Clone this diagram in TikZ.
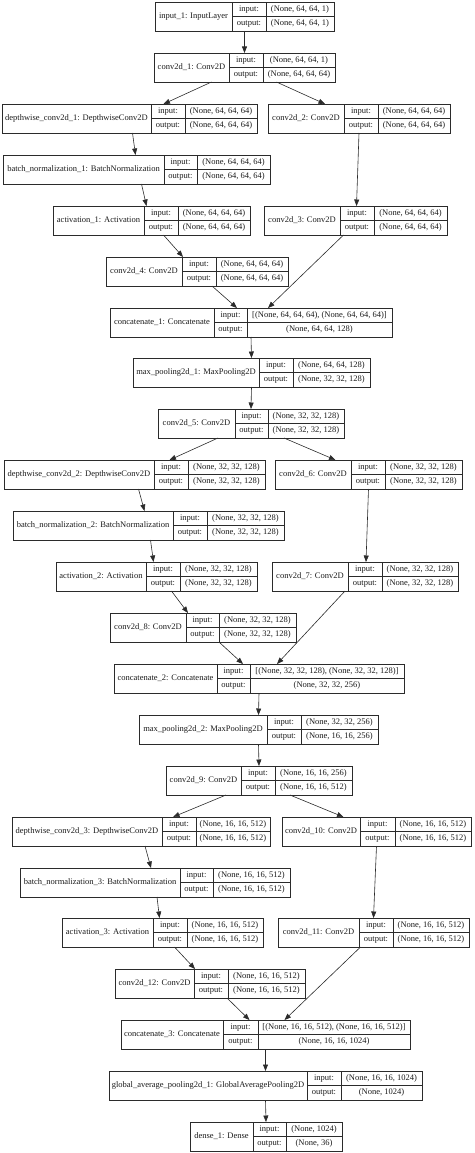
\documentclass[tikz,border=0pt]{standalone}
\usepackage{fontspec}
\setmainfont{Liberation Serif}
\usetikzlibrary{arrows.meta,fit}
\definecolor{krInk}{HTML}{1A1A1A}
\definecolor{krLine}{HTML}{2B2B2B}
\tikzset{
  krcell/.style={rectangle,draw=krLine,line width=0.6pt,inner sep=0pt,outer sep=0pt,text=krInk,font=\fontsize{8.5}{10}\selectfont,text height=6pt,text depth=1.9pt},
  krname/.style={krcell,minimum height=29pt},
  krlab/.style={krcell,minimum height=14.5pt},
  krval/.style={krcell,minimum height=14.5pt},
  krrec/.style={rectangle,inner sep=0pt,outer sep=0pt},
  krlink/.style={-{Triangle[length=6.5pt,width=5pt]},draw=krLine,line width=0.6pt}
}
% record: id, left, top, name width, label width, value width, name, input, output
\newcommand{\krlayer}[9]{%
  \node[krname,minimum width=#4pt,anchor=north west] (#1n) at (#2,#3) {#7};
  \node[krlab,minimum width=#5pt,anchor=north west] (#1li) at (#1n.north east) {input:};
  \node[krlab,minimum width=#5pt,anchor=north west] (#1lo) at (#1li.south west) {output:};
  \node[krval,minimum width=#6pt,anchor=north west] (#1vi) at (#1li.north east) {#8};
  \node[krval,minimum width=#6pt,anchor=north west] (#1vo) at (#1lo.north east) {#9};
  \node[krrec,fit=(#1n)(#1vo)] (#1) {};
}
\begin{document}
\begin{tikzpicture}[x=1pt,y=-1pt]
\useasboundingbox (0,0) rectangle (474,1153);

% ---- INPUT ----
\krlayer{in1}{155}{2}{77}{34}{68}{input\_1: InputLayer}{(None, 64, 64, 1)}{(None, 64, 64, 1)}
\krlayer{cv1}{154}{53}{75}{34}{72}{conv2d\_1: Conv2D}{(None, 64, 64, 1)}{(None, 64, 64, 64)}

% ---- BLOCK 1 ----
\krlayer{dw1}{2}{104}{149}{34}{72}{depthwise\_conv2d\_1: DepthwiseConv2D}{(None, 64, 64, 64)}{(None, 64, 64, 64)}
\krlayer{cv2}{268}{104}{76}{34}{72}{conv2d\_2: Conv2D}{(None, 64, 64, 64)}{(None, 64, 64, 64)}
\krlayer{bn1}{3}{155}{161}{33}{73}{batch\_normalization\_1: BatchNormalization}{(None, 64, 64, 64)}{(None, 64, 64, 64)}
\krlayer{ac1}{53}{206}{91}{34}{72}{activation\_1: Activation}{(None, 64, 64, 64)}{(None, 64, 64, 64)}
\krlayer{cv3}{264}{206}{76}{34}{73}{conv2d\_3: Conv2D}{(None, 64, 64, 64)}{(None, 64, 64, 64)}
\krlayer{cv4}{106}{257}{76}{34}{72}{conv2d\_4: Conv2D}{(None, 64, 64, 64)}{(None, 64, 64, 64)}
\krlayer{ct1}{110}{308}{104}{33}{145}{concatenate\_1: Concatenate}{[(None, 64, 64, 64), (None, 64, 64, 64)]}{(None, 64, 64, 128)}
\krlayer{mp1}{133}{358}{126}{34}{77}{max\_pooling2d\_1: MaxPooling2D}{(None, 64, 64, 128)}{(None, 32, 32, 128)}
\krlayer{cv5}{158}{409}{77}{33}{76}{conv2d\_5: Conv2D}{(None, 32, 32, 128)}{(None, 32, 32, 128)}

\draw[krlink] (in1.south) -- (cv1.north);
\draw[krlink] ([xshift=-33pt]cv1.south) -- ([xshift=34pt]dw1.north);
\draw[krlink] ([xshift=32pt]cv1.south) -- ([xshift=-34pt]cv2.north);
\draw[krlink] ([xshift=3pt]dw1.south) -- ([xshift=-1pt]bn1.north);
\draw[krlink] (cv2.south) -- ([xshift=1pt]cv3.north);
\draw[krlink] ([xshift=5pt]bn1.south) -- ([xshift=-5pt]ac1.north);
\draw[krlink] ([xshift=12pt]ac1.south) -- ([xshift=-14pt]cv4.north);
\draw[krlink] ([xshift=-12pt]cv3.south) -- ([xshift=17pt]ct1.north);
\draw[krlink] ([xshift=15pt]cv4.south) -- ([xshift=-14pt]ct1.north);
\draw[krlink] (ct1.south) -- (mp1.north);
\draw[krlink] (mp1.south) -- (cv5.north);

% ---- BLOCK 2 ----
\krlayer{dw2}{4}{460}{150}{34}{77}{depthwise\_conv2d\_2: DepthwiseConv2D}{(None, 32, 32, 128)}{(None, 32, 32, 128)}
\krlayer{cv6}{275}{460}{76}{34}{77}{conv2d\_6: Conv2D}{(None, 32, 32, 128)}{(None, 32, 32, 128)}
\krlayer{bn2}{13}{511}{160}{34}{77}{batch\_normalization\_2: BatchNormalization}{(None, 32, 32, 128)}{(None, 32, 32, 128)}
\krlayer{ac2}{56}{562}{90}{34}{77}{activation\_2: Activation}{(None, 32, 32, 128)}{(None, 32, 32, 128)}
\krlayer{cv7}{272}{562}{76}{34}{76}{conv2d\_7: Conv2D}{(None, 32, 32, 128)}{(None, 32, 32, 128)}
\krlayer{cv8}{110}{613}{76}{33}{77}{conv2d\_8: Conv2D}{(None, 32, 32, 128)}{(None, 32, 32, 128)}
\krlayer{ct2}{114}{664}{103}{33}{154}{concatenate\_2: Concatenate}{[(None, 32, 32, 128), (None, 32, 32, 128)]}{(None, 32, 32, 256)}
\krlayer{mp2}{139}{715}{128}{34}{77}{max\_pooling2d\_2: MaxPooling2D}{(None, 32, 32, 256)}{(None, 16, 16, 256)}
\krlayer{cv9}{166}{766}{75}{34}{77}{conv2d\_9: Conv2D}{(None, 16, 16, 256)}{(None, 16, 16, 512)}

\draw[krlink] ([xshift=-33pt]cv5.south) -- ([xshift=35pt]dw2.north);
\draw[krlink] ([xshift=33pt]cv5.south) -- ([xshift=-33pt]cv6.north);
\draw[krlink] ([xshift=4pt]dw2.south) -- ([xshift=-4pt]bn2.north);
\draw[krlink] (cv6.south) -- ([xshift=1pt]cv7.north);
\draw[krlink] ([xshift=2pt]bn2.south) -- ([xshift=-3pt]ac2.north);
\draw[krlink] ([xshift=15pt]ac2.south) -- ([xshift=-15pt]cv8.north);
\draw[krlink] ([xshift=-20pt]cv7.south) -- ([xshift=18pt]ct2.north);
\draw[krlink] ([xshift=16pt]cv8.south) -- ([xshift=-16pt]ct2.north);
\draw[krlink] (ct2.south) -- (mp2.north);
\draw[krlink] (mp2.south) -- (cv9.north);

% ---- BLOCK 3 ----
\krlayer{dw3}{12}{817}{150}{34}{74}{depthwise\_conv2d\_3: DepthwiseConv2D}{(None, 16, 16, 512)}{(None, 16, 16, 512)}
\krlayer{cv10}{282}{817}{78}{35}{76}{conv2d\_10: Conv2D}{(None, 16, 16, 512)}{(None, 16, 16, 512)}
\krlayer{bn3}{20}{868}{160}{33}{77}{batch\_normalization\_3: BatchNormalization}{(None, 16, 16, 512)}{(None, 16, 16, 512)}
\krlayer{ac3}{62}{918}{91}{34}{76}{activation\_3: Activation}{(None, 16, 16, 512)}{(None, 16, 16, 512)}
\krlayer{cv11}{278}{918}{81}{34}{76}{conv2d\_11: Conv2D}{(None, 16, 16, 512)}{(None, 16, 16, 512)}
\krlayer{cv12}{115}{969}{79}{34}{77}{conv2d\_12: Conv2D}{(None, 16, 16, 512)}{(None, 16, 16, 512)}
\krlayer{ct3}{121}{1020}{102}{35}{152}{concatenate\_3: Concatenate}{[(None, 16, 16, 512), (None, 16, 16, 512)]}{(None, 16, 16, 1024)}

\draw[krlink] ([xshift=-33pt]cv9.south) -- ([xshift=32pt]dw3.north);
\draw[krlink] ([xshift=31pt]cv9.south) -- ([xshift=-33pt]cv10.north);
\draw[krlink] ([xshift=4pt]dw3.south) -- ([xshift=-4pt]bn3.north);
\draw[krlink] (cv10.south) -- (cv11.north);
\draw[krlink] ([xshift=2pt]bn3.south) -- ([xshift=-3pt]ac3.north);
\draw[krlink] ([xshift=12pt]ac3.south) -- ([xshift=-15pt]cv12.north);
\draw[krlink] ([xshift=-13pt]cv11.south) -- ([xshift=19pt]ct3.north);
\draw[krlink] ([xshift=17pt]cv12.south) -- ([xshift=-16pt]ct3.north);

% ---- HEAD ----
\krlayer{gap}{109}{1071}{198}{34}{81}{global\_average\_pooling2d\_1: GlobalAveragePooling2D}{(None, 16, 16, 1024)}{(None, 1024)}
\krlayer{dn1}{190}{1122}{63}{33}{56}{dense\_1: Dense}{(None, 1024)}{(None, 36)}

\draw[krlink] (ct3.south) -- (gap.north);
\draw[krlink] (gap.south) -- (dn1.north);

\end{tikzpicture}
\end{document}
